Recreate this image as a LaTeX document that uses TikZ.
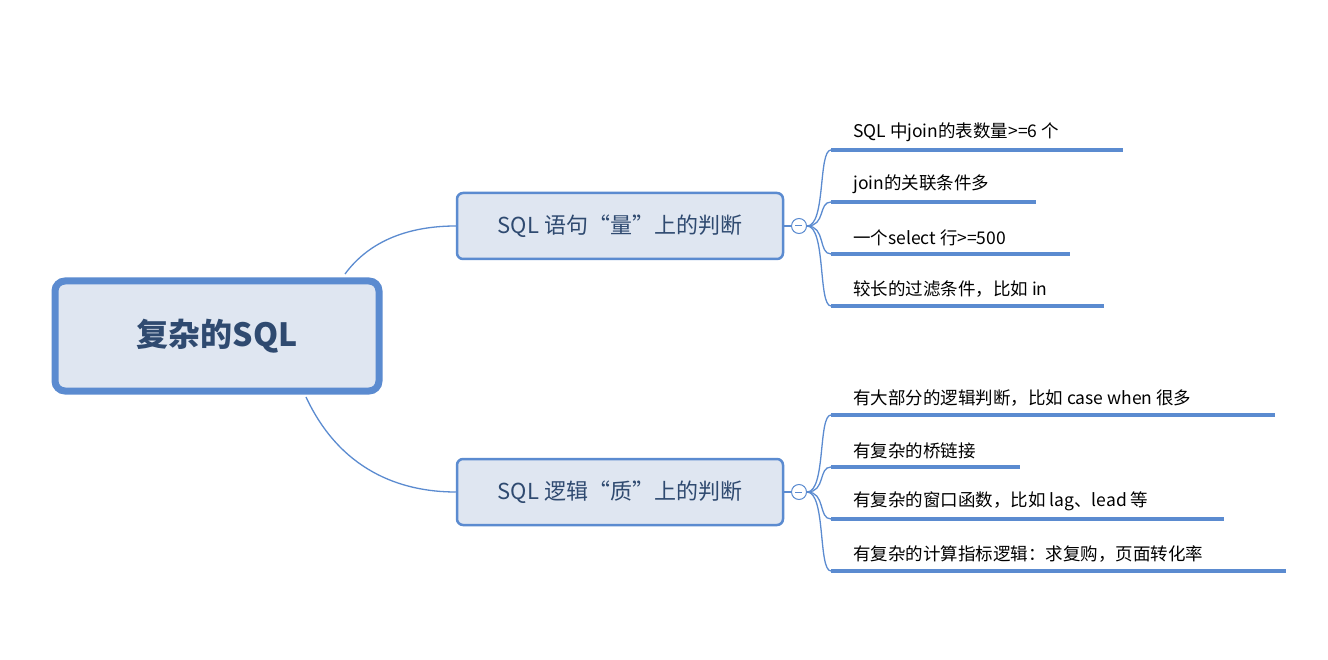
\documentclass[tikz,border=0pt]{standalone}
\usepackage{fontspec}
\setmainfont{Noto Sans CJK SC}
\definecolor{bl}{HTML}{5B8BD0}
\definecolor{fl}{HTML}{DFE6F1}
\definecolor{tx}{HTML}{2F4A70}
\begin{document}
\begin{tikzpicture}[x=1pt,y=-1pt,
 root/.style={draw=bl,line width=7pt,fill=fl,rounded corners=10pt,minimum width=324pt,minimum height=110pt,text=tx,font=\fontsize{32}{36}\selectfont\bfseries},
 br/.style={draw=bl,line width=2.5pt,fill=fl,rounded corners=6pt,minimum width=326pt,minimum height=66pt,text=tx,font=\fontsize{22}{26}\selectfont},
 lf/.style={anchor=south west,inner sep=0pt,font=\fontsize{17.5}{20}\selectfont},
 ul/.style={draw=bl,line width=3.5pt},
 cn/.style={draw=bl,line width=1.3pt},
 tg/.style={circle,draw=bl,line width=1pt,fill=white,minimum size=15pt,inner sep=0pt}]
\useasboundingbox (0,0) rectangle (1328,660);
\node[root] (r) at (217,336) {复杂的SQL};
\node[br] (a) at (620,226) {SQL 语句“量”上的判断};
\node[br] (b) at (620,492) {SQL 逻辑“质”上的判断};
\coordinate (rt) at (345,274);
\coordinate (rb) at (306,397);
\draw[cn] (rt) .. controls (370,240) and (410,226) .. (a.west);
\draw[cn] (rb) .. controls (340,470) and (400,492) .. (b.west);
\node[tg] (ta) at (799,226) {};
\node[tg] (tb) at (799,492) {};
\draw[bl,line width=1pt] (ta.west)++(4,0) -- ++(7,0);
\draw[bl,line width=1pt] (tb.west)++(4,0) -- ++(7,0);
\draw[cn] (a.east) -- (ta.west);
\draw[cn] (b.east) -- (tb.west);
% upper leaves
\foreach \y/\e/\t [count=\i] in {150/1123/{SQL 中join的表数量>=6 个},202/1036/{join的关联条件多},254/1070/{一个select 行>=500},306/1104/{较长的过滤条件，比如 in}}{
 \coordinate (us\i) at (831,\y);
 \coordinate (ue\i) at (\e,\y);
 \draw[ul] (us\i) -- (ue\i);
 \node[lf] (ut\i) at (853,\y-8) {\t};
 \draw[cn] (ta.east) .. controls (826,226) and (818,\y) .. (us\i);
}
\foreach \y/\e/\t [count=\i] in {415/1275/{有大部分的逻辑判断，比如 case when 很多},467/1020/{有复杂的桥链接},519/1224/{有复杂的窗口函数，比如 lag、lead 等},571/1286/{有复杂的计算指标逻辑：求复购，页面转化率}}{
 \coordinate (ls\i) at (831,\y);
 \coordinate (le\i) at (\e,\y);
 \draw[ul] (ls\i) -- (le\i);
 \node[lf] (lt\i) at (853,\y-8) {\t};
 \draw[cn] (tb.east) .. controls (826,492) and (818,\y) .. (ls\i);
}
\end{tikzpicture}
\end{document}
